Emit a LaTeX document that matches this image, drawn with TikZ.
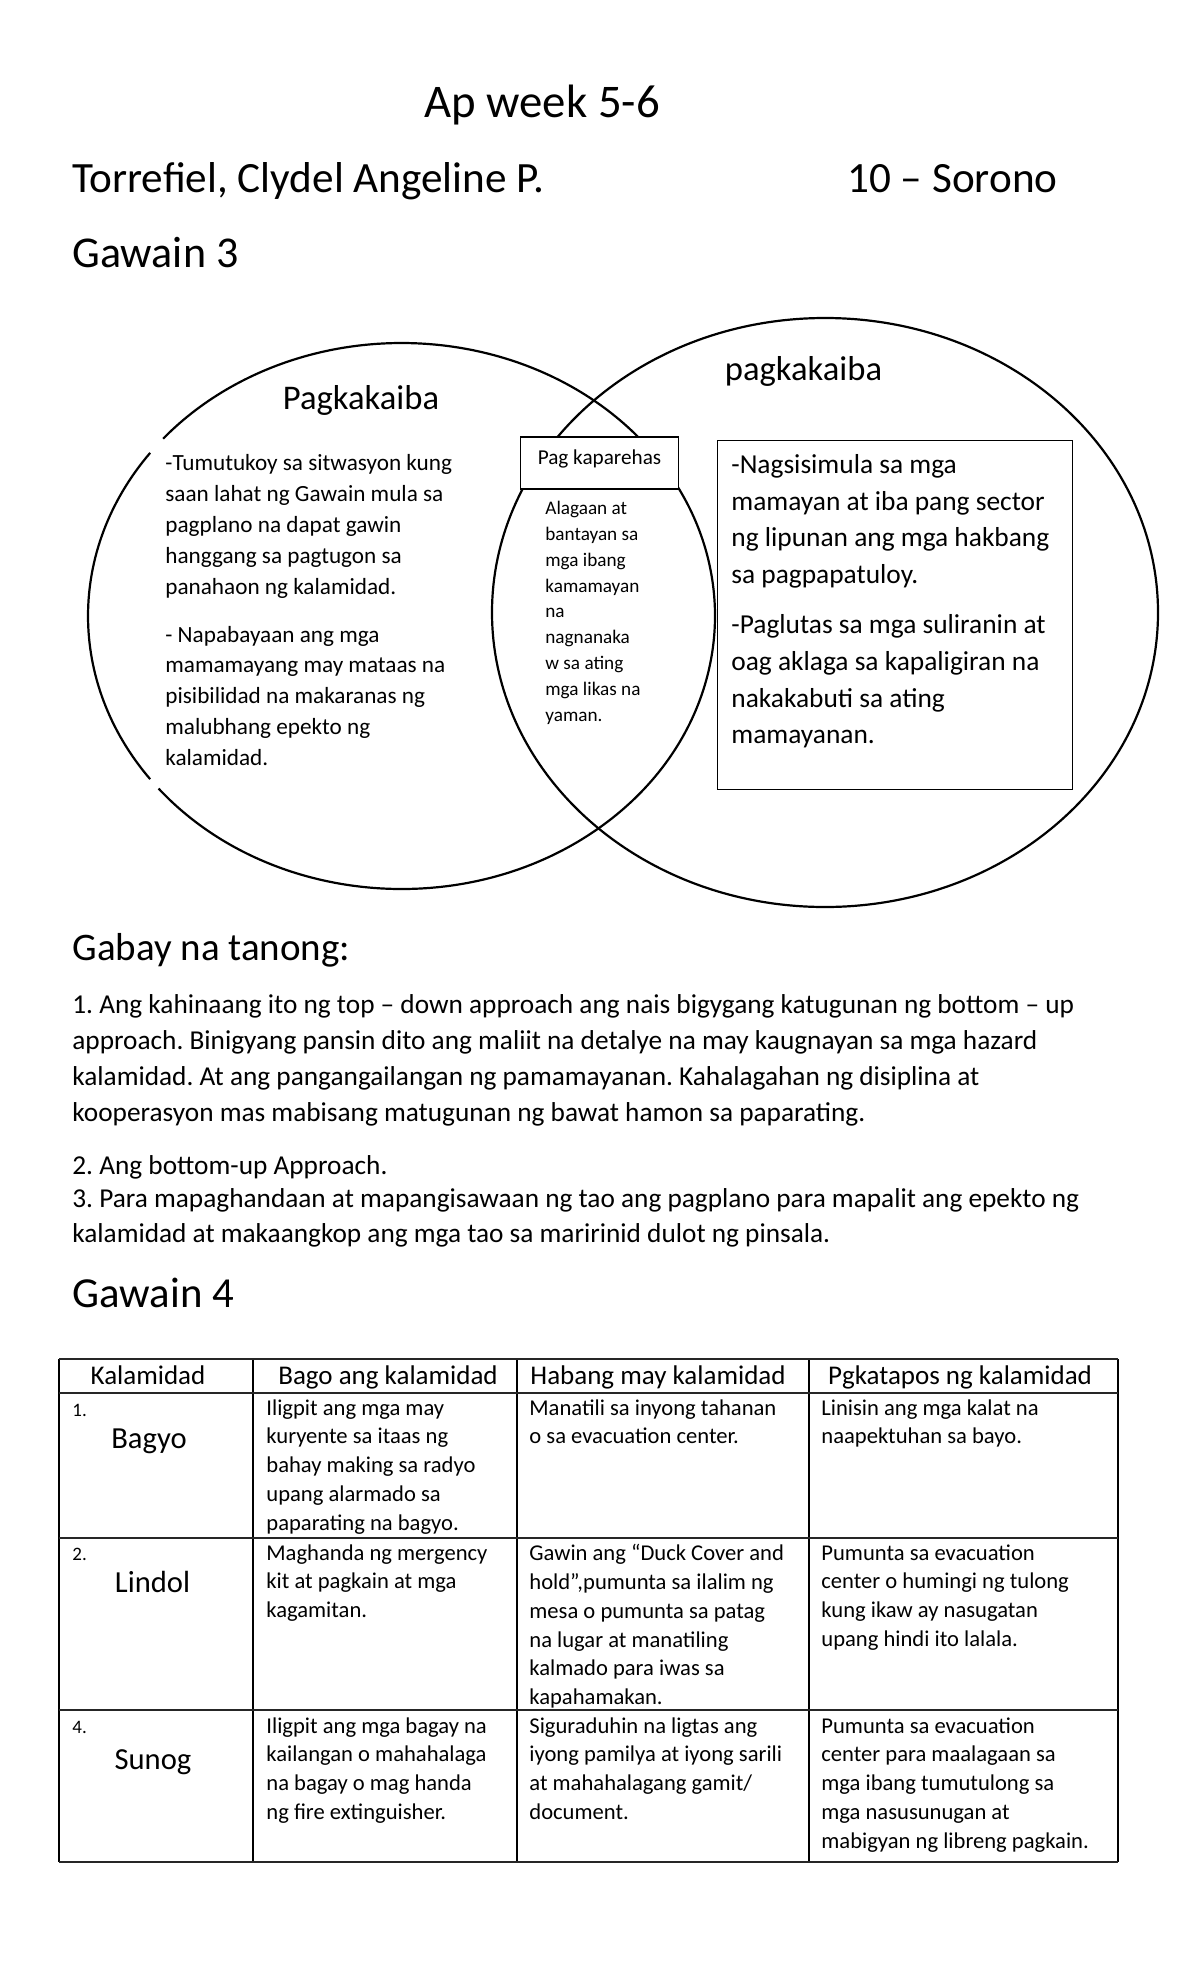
\documentclass[tikz,border=0pt]{standalone}
\usepackage{fontspec}
\setmainfont{Carlito}
\usetikzlibrary{positioning}
\newcommand\fsz[2]{\fontsize{#1}{#2}\selectfont}
\frenchspacing

\begin{document}
\begin{tikzpicture}[
  x=0.5pt, y=0.5pt,
  head/.style={anchor=base west,inner sep=0pt,font=\fsz{21.6}{25}},
  txt/.style={anchor=north west,inner sep=0pt,align=left},
  venn/.style={line width=1.1pt},
  thinbox/.style={draw,line width=0.65pt,fill=white},
  hline/.style={line width=1pt,black!85},
  vline/.style={line width=0.7pt},
  cell/.style={anchor=north west,inner sep=0pt,align=left,font=\fsz{11.3}{14.4}},
  colhead/.style={anchor=base,inner sep=0pt,font=\fsz{13.5}{16}},
  rowname/.style={anchor=base,inner sep=0pt,font=\fsz{15.3}{18}},
  rownum/.style={anchor=base west,inner sep=0pt,font=\fsz{9.5}{11}}
]
\fill[white] (0,0) rectangle (1200,-1976);
\useasboundingbox (0,0) rectangle (1200,-1976);

% heading lines
\node[anchor=base,inner sep=0pt,font=\fsz{23.4}{28}] (title) at (542,-117) {Ap week 5-6};
\node[head] (student) at (72,-192) {Torrefiel, Clydel Angeline P.};
\node[head] (section) at (847,-192) {10 -- Sorono};
\node[head,font=\fsz{22}{26}] (gawain3) at (72,-267) {Gawain 3};

% venn diagram
\coordinate (lc) at (401.5,-616);
\coordinate (rc) at (825,-612.5);
\draw[venn] (lc) ++(-140.8:156.75pt and 136.5pt) arc[start angle=-140.8,end angle=139.5,x radius=156.75pt,y radius=136.5pt];
\draw[venn] (lc) ++(143.3:156.75pt and 136.5pt) arc[start angle=143.3,end angle=216.7,x radius=156.75pt,y radius=136.5pt];
\draw[venn] (rc) ellipse[x radius=166.5pt,y radius=147.25pt];

\node[inner sep=0pt,font=\fsz{17.3}{20}] (lefthead) at (361,-400) {Pagkakaiba};
\node[inner sep=0pt,font=\fsz{17.3}{20}] (righthead) at (803.5,-371) {pagkakaiba};

\node[txt,font=\fsz{11.6}{15.45}] (lefttext) at (165,-454) {-Tumutukoy sa sitwasyon kung\\
saan lahat ng Gawain mula sa\\
pagplano na dapat gawin\\
hanggang sa pagtugon sa\\
panahaon ng kalamidad.\\[8.5pt]
- Napabayaan ang mga\\
mamamayang may mataas na\\
pisibilidad na makaranas ng\\
malubhang epekto ng\\
kalamidad.};

\node[thinbox,minimum width=79pt,minimum height=26pt,inner sep=0pt,
  text height=7pt,text depth=6pt,font=\fsz{10.6}{12}] (same) at (599.5,-463) {Pag kaparehas};
\node[txt,font=\fsz{9.6}{12.9}] (sametext) at (545,-501) {Alagaan at\\
bantayan sa\\
mga ibang\\
kamamayan\\
na\\
nagnanaka\\
w sa ating\\
mga likas na\\
yaman.};

\node[thinbox,anchor=north west,minimum width=177.5pt,minimum height=174.5pt] (rightbox) at (717,-440) {};
\node[txt,font=\fsz{13.7}{18.3}] (righttext) at ([xshift=7pt,yshift=-7pt]rightbox.north west) {-Nagsisimula sa mga\\
mamayan at iba pang sector\\
ng lipunan ang mga hakbang\\
sa pagpapatuloy.\\[7pt]
-Paglutas sa mga suliranin at\\
oag aklaga sa kapaligiran na\\
nakakabuti sa ating\\
mamayanan.};

% guide questions
\node[head,font=\fsz{19.5}{24}] (gabay) at (72,-960) {Gabay na tanong:};
\node[txt,font=\fsz{13.65}{18.1}] (ans1) at (72,-994) {1. Ang kahinaang ito ng top -- down approach ang nais bigygang katugunan ng bottom -- up\\
approach. Binigyang pansin dito ang maliit na detalye na may kaugnayan sa mga hazard\\
kalamidad. At ang pangangailangan ng pamamayanan. Kahalagahan ng disiplina at\\
kooperasyon mas mabisang matugunan ng bawat hamon sa paparating.};
\node[txt,font=\fsz{13.65}{17.5}] (ans2) at (72,-1155) {2. Ang bottom-up Approach.};
\node[txt,font=\fsz{13.65}{17.5}] (ans3) at (72,-1188) {3. Para mapaghandaan at mapangisawaan ng tao ang pagplano para mapalit ang epekto ng\\
kalamidad at makaangkop ang mga tao sa maririnid dulot ng pinsala.};

\node[head,font=\fsz{21.4}{25}] (gawain4) at (72,-1307) {Gawain 4};

% table
\foreach \x in {59,253,517,809,1118}
  \draw[vline] (\x,-1359) -- (\x,-1862);
\foreach \y in {1359,1393,1538,1710,1862}
  \draw[hline] (59,-\y) -- (1118,-\y);

\node[colhead] (hkal) at (148,-1384) {Kalamidad};
\node[colhead] (hbago) at (388,-1384) {Bago ang kalamidad};
\node[colhead] (hhabang) at (658,-1384) {Habang may kalamidad};
\node[colhead] (hpag) at (960,-1384) {Pgkatapos ng kalamidad};

% row 1
\node[rownum] (num1) at (72,-1416) {1.};
\node[rowname] (bagyo) at (149,-1448) {Bagyo};
\node[cell] (bagyo1) at (266,-1399) {Iligpit ang mga may\\
kuryente sa itaas ng\\
bahay making sa radyo\\
upang alarmado sa\\
paparating na bagyo.};
\node[cell] (bagyo2) at (529,-1399) {Manatili sa inyong tahanan\\
o sa evacuation center.};
\node[cell] (bagyo3) at (821,-1399) {Linisin ang mga kalat na\\
naapektuhan sa bayo.};

% row 2
\node[rownum] (num2) at (72,-1560) {2.};
\node[rowname] (lindol) at (152.5,-1592) {Lindol};
\node[cell] (lindol1) at (266,-1544) {Maghanda ng mergency\\
kit at pagkain at mga\\
kagamitan.};
\node[cell] (lindol2) at (529,-1544) {Gawin ang “Duck Cover and\\
hold”,pumunta sa ilalim ng\\
mesa o pumunta sa patag\\
na lugar at manatiling\\
kalmado para iwas sa\\
kapahamakan.};
\node[cell] (lindol3) at (821,-1544) {Pumunta sa evacuation\\
center o humingi ng tulong\\
kung ikaw ay nasugatan\\
upang hindi ito lalala.};

% row 3
\node[rownum] (num3) at (72,-1733) {4.};
\node[rowname] (sunog) at (153,-1769) {Sunog};
\node[cell] (sunog1) at (266,-1717) {Iligpit ang mga bagay na\\
kailangan o mahahalaga\\
na bagay o mag handa\\
ng fire extinguisher.};
\node[cell] (sunog2) at (529,-1717) {Siguraduhin na ligtas ang\\
iyong pamilya at iyong sarili\\
at mahahalagang gamit/\\
document.};
\node[cell] (sunog3) at (821,-1717) {Pumunta sa evacuation\\
center para maalagaan sa\\
mga ibang tumutulong sa\\
mga nasusunugan at\\
mabigyan ng libreng pagkain.};
\end{tikzpicture}
\end{document}
